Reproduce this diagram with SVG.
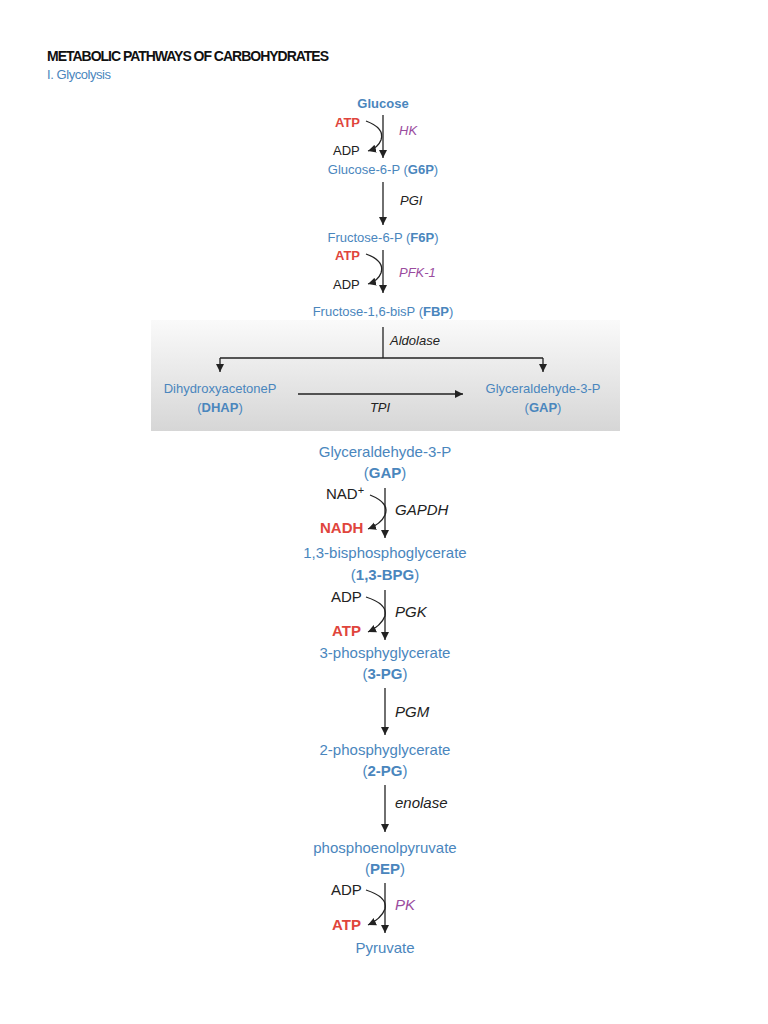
<svg xmlns="http://www.w3.org/2000/svg" width="768" height="1024" viewBox="0 0 768 1024">
<style>
text{font-family:"Liberation Sans",Arial,sans-serif}
.b{fill:#4a86bd;font-size:13px}
.b2{fill:#4a86bd;font-size:15px}
.bb{font-weight:bold}
.k{fill:#222;font-size:13px}
.k2{fill:#222;font-size:15px}
.r{fill:#e0453c;font-weight:bold}
.p{fill:#9a4c9e;font-style:italic}
.i{fill:#222;font-style:italic}
.ln{stroke:#222;stroke-width:1.3;fill:none}
</style>
<defs>
<marker id="a" markerWidth="10" markerHeight="10" refX="8" refY="5" orient="auto" markerUnits="userSpaceOnUse"><path d="M0,1 L8,5 L0,9 Z" fill="#222"/></marker>
<linearGradient id="g" x1="0" y1="0" x2="0" y2="1"><stop offset="0" stop-color="#fafafa"/><stop offset="1" stop-color="#d6d6d6"/></linearGradient>
</defs>
<rect width="768" height="1024" fill="#fff"/>
<text x="47" y="61" font-family="'Liberation Sans Narrow','Liberation Sans',sans-serif" font-weight="bold" font-size="14" fill="#111" textLength="282">METABOLIC PATHWAYS OF CARBOHYDRATES</text>
<text x="47" y="79" font-size="13" fill="#4a86bd" textLength="64">I. Glycolysis</text>
<rect x="151" y="320" width="469" height="111" fill="url(#g)"/>
<g id="connectors">
<line class="ln" x1="383" y1="115" x2="383" y2="158" marker-end="url(#a)"/>
<path class="ln" d="M366,121 Q385,128 381,140 Q378,148 368,151" marker-end="url(#a)"/>
<line class="ln" x1="383" y1="182" x2="383" y2="225" marker-end="url(#a)"/>
<line class="ln" x1="383" y1="250" x2="383" y2="293" marker-end="url(#a)"/>
<path class="ln" d="M366,254 Q385,261 381,273 Q378,281 368,284" marker-end="url(#a)"/>
<line class="ln" x1="383" y1="327" x2="383" y2="358"/>
<path class="ln" d="M220,358 H543"/>
<line class="ln" x1="220" y1="358" x2="220" y2="372" marker-end="url(#a)"/>
<line class="ln" x1="543" y1="358" x2="543" y2="372" marker-end="url(#a)"/>
<line class="ln" x1="298" y1="394" x2="463" y2="394" marker-end="url(#a)"/>
<line class="ln" x1="385" y1="488" x2="385" y2="538" marker-end="url(#a)"/>
<path class="ln" d="M370,495 Q390,503 385,515 Q381,524 368,529" marker-end="url(#a)"/>
<line class="ln" x1="385" y1="590" x2="385" y2="640" marker-end="url(#a)"/>
<path class="ln" d="M366,597 Q388,604 385,616 Q381,626 368,632" marker-end="url(#a)"/>
<line class="ln" x1="385" y1="688" x2="385" y2="735" marker-end="url(#a)"/>
<line class="ln" x1="385" y1="785" x2="385" y2="832" marker-end="url(#a)"/>
<line class="ln" x1="385" y1="883" x2="385" y2="933" marker-end="url(#a)"/>
<path class="ln" d="M366,890 Q388,897 385,909 Q381,919 368,925" marker-end="url(#a)"/>
</g>
<g id="glucose"><text class="b bb" x="383" y="108" text-anchor="middle">Glucose</text></g>
<g id="hk"><text class="r" x="335" y="127" font-size="13">ATP</text><text class="p" x="399" y="135" font-size="13">HK</text><text class="k" x="333" y="155">ADP</text></g>
<g id="g6p"><text class="b" x="383" y="174" text-anchor="middle">Glucose-6-P (<tspan class="bb">G6P</tspan>)</text></g>
<g id="pgi"><text class="i" x="400" y="205" font-size="13">PGI</text></g>
<g id="f6p"><text class="b" x="383" y="242" text-anchor="middle">Fructose-6-P (<tspan class="bb">F6P</tspan>)</text></g>
<g id="pfk"><text class="r" x="335" y="260" font-size="13">ATP</text><text class="p" x="399" y="277" font-size="13">PFK-1</text><text class="k" x="333" y="289">ADP</text></g>
<g id="fbp"><text class="b" x="383" y="316" text-anchor="middle">Fructose-1,6-bisP (<tspan class="bb">FBP</tspan>)</text></g>
<g id="aldolase"><text class="i" x="390" y="345" font-size="13">Aldolase</text></g>
<g id="dhap"><text class="b" x="220" y="393" text-anchor="middle">DihydroxyacetoneP</text><text class="b" x="220" y="412" text-anchor="middle">(<tspan class="bb">DHAP</tspan>)</text></g>
<g id="gap1"><text class="b" x="543" y="393" text-anchor="middle">Glyceraldehyde-3-P</text><text class="b" x="543" y="412" text-anchor="middle">(<tspan class="bb">GAP</tspan>)</text></g>
<g id="tpi"><text class="i" x="380" y="412" font-size="13" text-anchor="middle">TPI</text></g>
<g id="gap2"><text class="b2" x="385" y="457" text-anchor="middle">Glyceraldehyde-3-P</text><text class="b2" x="385" y="478" text-anchor="middle">(<tspan class="bb">GAP</tspan>)</text></g>
<g id="gapdh"><text class="k2" x="326" y="499">NAD<tspan font-size="11" dy="-5">+</tspan></text><text class="i" x="395" y="515" font-size="15">GAPDH</text><text class="r" x="320" y="533" font-size="15">NADH</text></g>
<g id="bpg"><text class="b2" x="385" y="558" text-anchor="middle">1,3-bisphosphoglycerate</text><text class="b2" x="385" y="580" text-anchor="middle">(<tspan class="bb">1,3-BPG</tspan>)</text></g>
<g id="pgk"><text class="k2" x="331" y="602">ADP</text><text class="i" x="395" y="617" font-size="15">PGK</text><text class="r" x="332" y="636" font-size="15">ATP</text></g>
<g id="pg3"><text class="b2" x="385" y="658" text-anchor="middle">3-phosphyglycerate</text><text class="b2" x="385" y="679" text-anchor="middle">(<tspan class="bb">3-PG</tspan>)</text></g>
<g id="pgm"><text class="i" x="395" y="717" font-size="15">PGM</text></g>
<g id="pg2"><text class="b2" x="385" y="755" text-anchor="middle">2-phosphyglycerate</text><text class="b2" x="385" y="776" text-anchor="middle">(<tspan class="bb">2-PG</tspan>)</text></g>
<g id="enolase"><text class="i" x="395" y="808" font-size="15">enolase</text></g>
<g id="pep"><text class="b2" x="385" y="853" text-anchor="middle">phosphoenolpyruvate</text><text class="b2" x="385" y="874" text-anchor="middle">(<tspan class="bb">PEP</tspan>)</text></g>
<g id="pk"><text class="k2" x="331" y="895">ADP</text><text class="p" x="395" y="910" font-size="15">PK</text><text class="r" x="332" y="930" font-size="15">ATP</text></g>
<g id="pyruvate"><text class="b2" x="385" y="953" text-anchor="middle">Pyruvate</text></g>
</svg>
